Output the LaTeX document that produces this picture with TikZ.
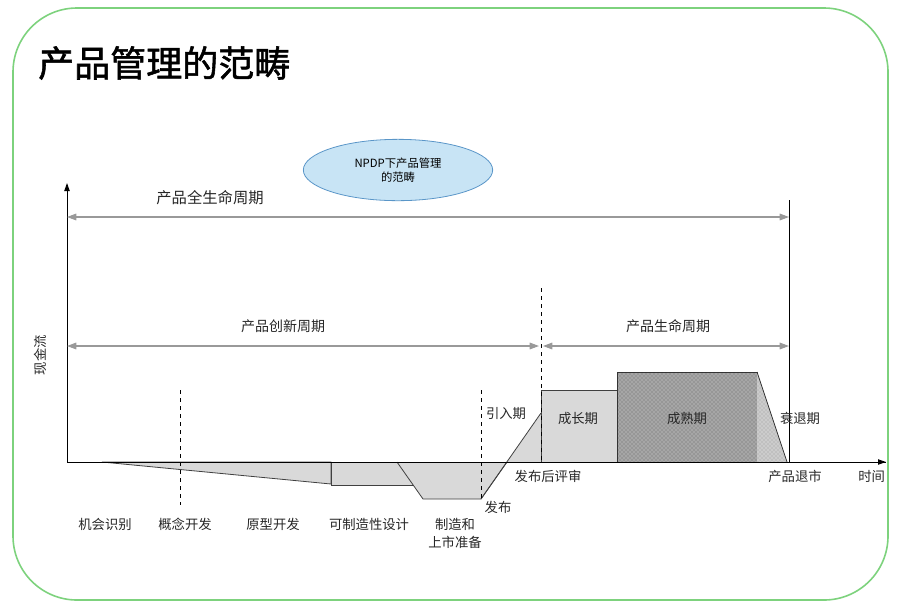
\documentclass[tikz,border=0pt]{standalone}
\usepackage{fontspec}
\setmainfont{Noto Sans CJK SC}
\newfontfamily\titlefont[FakeBold=1.5]{Noto Sans CJK SC}
\usetikzlibrary{arrows.meta,patterns,shapes.geometric}
\begin{document}
\begin{tikzpicture}[x=0.75pt,y=-0.75pt,
  lbl/.style={font=\fontsize{10}{12}\selectfont, text=black!85, inner sep=0pt},
  span/.style={draw=gray!80, line width=0.8pt, {Triangle[length=7pt,width=5pt]}-{Triangle[length=7pt,width=5pt]}},
  area/.style={draw=black!75, line width=0.6pt, fill=gray!30},
  dline/.style={draw=black, dashed, line width=0.6pt}]
\useasboundingbox (0,0) rectangle (902,608);
\draw[draw={rgb,255:red,125;green,210;blue,125}, line width=1.2pt, rounded corners=48pt] (13,8) rectangle (888,600);
\node[anchor=west, font=\titlefont\fontsize{27}{32}\selectfont, inner sep=0pt] (title) at (38,63) {产品管理的范畴};
\node[ellipse, draw={rgb,255:red,90;green,150;blue,200}, fill={rgb,255:red,200;green,228;blue,245}, minimum width=142pt, minimum height=46pt, align=center, font=\fontsize{8.5}{11}\selectfont, line width=0.6pt] (npdp) at (398,170) {NPDP下产品管理\\的范畴};
% axes
\coordinate (o) at (67,462);
\coordinate (ytop) at (67,183);
\coordinate (xend) at (886,462);
\draw[line width=0.7pt, -{Triangle[length=6pt,width=4pt]}] (o) -- (ytop);
\draw[line width=0.7pt, -{Triangle[length=6pt,width=4pt]}] (o) -- (xend);
\node[lbl, rotate=90] (yl) at (40,355) {现金流};
\node[lbl, anchor=west] (xl) at (858,476) {时间};
% areas
\draw[area] (102,462) -- (331,484) -- (331,462) -- cycle;
\draw[area] (331,462) rectangle (413,485);
\draw[area] (397,462) -- (423,499) -- (481,499) -- (507,462);
\fill[gray!30] (507,462) -- (541,413) -- (541,462) -- cycle;
\draw[black!75, line width=0.6pt] (481,499) -- (541,413);
\draw[area] (541,390) rectangle (617,462);
\fill[gray!70] (617,372) rectangle (757,462);
\fill[pattern=crosshatch dots, pattern color=black!60] (617,372) rectangle (757,462);
\draw[black!80, line width=0.7pt] (617,372) rectangle (757,462);
\fill[gray!40] (757,372) -- (787,462) -- (757,462) -- cycle;
\fill[pattern=crosshatch dots, pattern color=black!40] (757,372) -- (787,462) -- (757,462) -- cycle;
\draw[black!80, line width=0.6pt] (757,372) -- (787,462);
\draw[line width=0.7pt] (o) -- (xend);
% verticals
\draw[dline] (180,390) -- (180,505);
\draw[dline] (481,390) -- (481,500);
\draw[dline] (541,288) -- (541,462);
\draw[line width=0.7pt] (789,200) -- (789,462);
% spans
\coordinate (a1) at (67,217); \coordinate (a2) at (789,217);
\draw[span] (a1) -- (a2);
\node[lbl, font=\fontsize{11.5}{13}\selectfont] (l1) at (210,198) {产品全生命周期};
\coordinate (b1) at (67,346); \coordinate (b2) at (539,346);
\draw[span] (b1) -- (b2);
\node[lbl, font=\fontsize{10.5}{12}\selectfont] (l2) at (283,326) {产品创新周期};
\coordinate (c1) at (543,346); \coordinate (c2) at (789,346);
\draw[span] (c1) -- (c2);
\node[lbl, font=\fontsize{10.5}{12}\selectfont] (l3) at (668,326) {产品生命周期};
% labels
\node[lbl] (t1) at (506,414) {引入期};
\node[lbl] (t2) at (578,418) {成长期};
\node[lbl] (t3) at (687,418) {成熟期};
\node[lbl] (t4) at (800,418) {衰退期};
\node[lbl] (t5) at (548,476) {发布后评审};
\node[lbl] (t6) at (795,476) {产品退市};
\node[lbl] (t7) at (498,507) {发布};
\node[lbl] (s1) at (105,524) {机会识别};
\node[lbl] (s2) at (185,524) {概念开发};
\node[lbl] (s3) at (273,524) {原型开发};
\node[lbl] (s4) at (369,524) {可制造性设计};
\node[lbl, align=center, font=\fontsize{10}{13.5}\selectfont] (s5) at (455,533) {制造和\\上市准备};
\end{tikzpicture}
\end{document}
